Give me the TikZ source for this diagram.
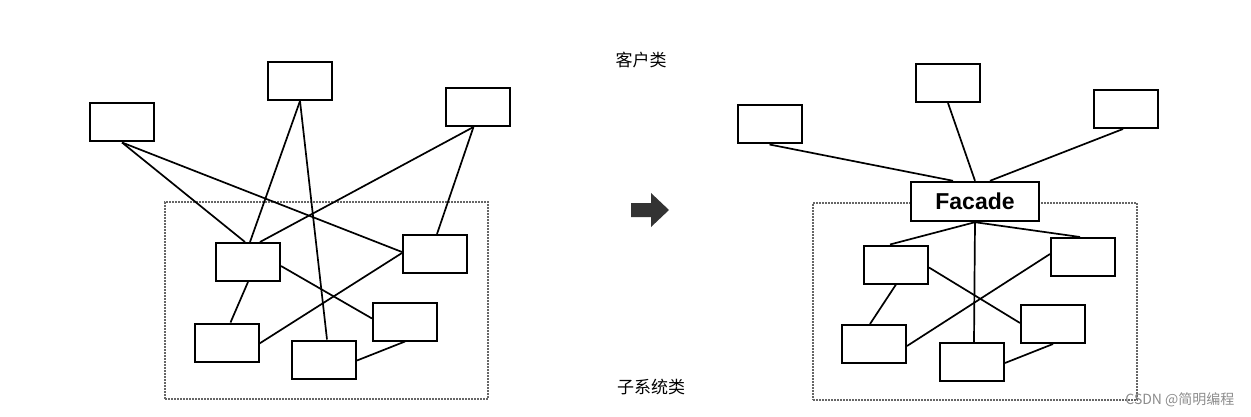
\documentclass[tikz,border=0pt]{standalone}
\usepackage{fontspec}
\setmainfont{Liberation Sans}
\newfontfamily\cjk{Noto Sans CJK SC}
\begin{document}
\begin{tikzpicture}[x=1pt,y=-1pt,
  cls/.style={draw,line width=2pt,minimum width=64pt,minimum height=38pt,inner sep=0pt,fill=white},
  sys/.style={draw=black!60,densely dotted,line width=2pt,inner sep=0pt},
  link/.style={line width=1.7pt}]
\useasboundingbox (0,0) rectangle (1251,417);
% left
\node[sys,minimum width=323pt,minimum height=197pt] (LB) at (326.5,300.5) {};
\node[cls] (L1) at (122,122.5) {};
\node[cls] (L2) at (300,81) {};
\node[cls] (L3) at (477.5,107) {};
\node[cls] (S1) at (248,262) {};
\node[cls] (S2) at (435,254) {};
\node[cls] (S3) at (226.5,342.5) {};
\node[cls] (S4) at (324,359.5) {};
\node[cls] (S5) at (405,321.5) {};
\draw[link] (L1.south) -- ([xshift=-3pt]S1.north);
\draw[link] (L1.south) -- ([yshift=2pt]S2.west);
\draw[link] (L2.south) -- ([xshift=2pt]S1.north);
\draw[link] (L2.south) -- ([xshift=3pt]S4.north);
\draw[link] ([xshift=-4pt]L3.south) -- ([xshift=12pt]S1.north);
\draw[link] ([xshift=-4pt]L3.south) -- ([xshift=2pt]S2.north);
\draw[link] (S1.south) -- ([xshift=4pt]S3.north);
\draw[link] ([yshift=-4pt]S1.east) -- ([yshift=3pt]S5.west);
\draw[link] ([yshift=1pt]S2.west) -- ([yshift=-1pt]S3.east);
\draw[link] (S5.south) -- ([yshift=-1pt]S4.east);
% arrow
\node[draw=none] (AR) at (650,210) {};
\fill[black!80] (631,203) -- (651,203) -- (651,193) -- (669,210) -- (651,227) -- (651,217) -- (631,217) -- cycle;
% right
\node[sys,minimum width=324pt,minimum height=197pt] (RB) at (975,301.5) {};
\node[cls] (R1) at (769.5,124.5) {};
\node[cls] (R2) at (948,83) {};
\node[cls] (R3) at (1126,109) {};
\node[cls] (T1) at (896,264.5) {};
\node[cls] (T2) at (1083,257) {};
\node[cls] (T3) at (874,344) {};
\node[cls] (T4) at (972,362) {};
\node[cls] (T5) at (1053,324) {};
\node[cls,line width=2.4pt,minimum width=128pt,minimum height=39pt,font=\bfseries\fontsize{23}{26}\selectfont] (F) at (975,201.5) {Facade};
\draw[link] (R1.south) -- ([xshift=-22pt]F.north);
\draw[link] (R2.south) -- (F.north);
\draw[link] ([xshift=-3pt]R3.south) -- ([xshift=15pt]F.north);
\draw[link] (F.south) -- ([xshift=-6pt]T1.north);
\draw[link] (F.south) -- ([xshift=2pt]T4.north);
\draw[link] (F.south) -- ([xshift=-3pt]T2.north);
\draw[link] (T1.south) -- ([xshift=-4pt]T3.north);
\draw[link] ([yshift=-3pt]T1.east) -- ([yshift=1pt]T5.west);
\draw[link] ([yshift=3pt]T2.west) -- ([yshift=-2pt]T3.east);
\draw[link] (T5.south) -- ([yshift=-1pt]T4.east);
% texts
\node[font=\cjk\fontsize{17}{20}\selectfont] (C) at (641,60) {客户类};
\node[font=\cjk\fontsize{17}{20}\selectfont] (Sub) at (651,387) {子系统类};
\node[font=\cjk\fontsize{14}{16}\selectfont,text=black!45,anchor=east] (W) at (1238,400) {CSDN @简明编程};
\end{tikzpicture}
\end{document}
